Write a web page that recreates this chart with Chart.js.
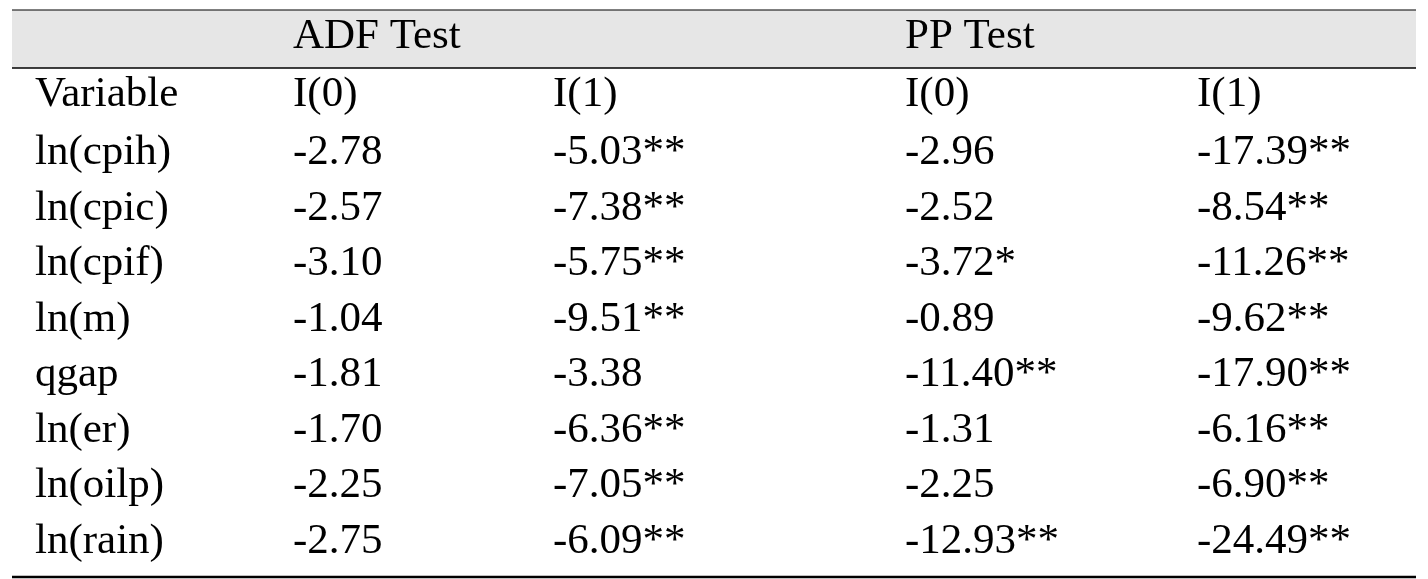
<!DOCTYPE html>
<html>
<head>
<meta charset="utf-8">
<script src="https://cdn.jsdelivr.net/npm/chart.js@4"></script>
<style>
  html, body { margin: 0; padding: 0; background: #fff; }
  #wrap { width: 1428px; height: 579px; position: relative; }
</style>
</head>
<body>
<div id="wrap"><canvas id="chart"></canvas></div>
<script>
// table content
let groups = ['ADF Test', 'PP Test'];
let headers = ['Variable', 'I(0)', 'I(1)', 'I(0)', 'I(1)'];
let variables = ['ln(cpih)', 'ln(cpic)', 'ln(cpif)', 'ln(m)', 'qgap', 'ln(er)', 'ln(oilp)', 'ln(rain)'];
let adfLevel = ['-2.78', '-2.57', '-3.10', '-1.04', '-1.81', '-1.70', '-2.25', '-2.75'];
let adfDiff = ['-5.03**', '-7.38**', '-5.75**', '-9.51**', '-3.38', '-6.36**', '-7.05**', '-6.09**'];
let ppLevel = ['-2.96', '-2.52', '-3.72*', '-0.89', '-11.40**', '-1.31', '-2.25', '-12.93**'];
let ppDiff = ['-17.39**', '-8.54**', '-11.26**', '-9.62**', '-17.90**', '-6.16**', '-6.90**', '-24.49**'];

// layout in scale units (pixels of the 1428x579 picture)
let colX = [35, 293, 553, 905, 1197];
let groupX = [293, 905];
let groupY = 37;
let headerY = 95;
let firstRowY = 153;
let rowStep = 55.5;

let columns = [variables, adfLevel, adfDiff, ppLevel, ppDiff];
let points = [];
columns.forEach((col, c) => col.forEach((v, r) => points.push({ x: colX[c], y: firstRowY + r * rowStep, label: v })));

const tablePlugin = {
  id: 'table',
  beforeDatasetsDraw(chart) {
    const ctx = chart.ctx, xs = chart.scales.x, ys = chart.scales.y;
    const x0 = xs.getPixelForValue(12), x1 = xs.getPixelForValue(1416);
    ctx.save();
    ctx.fillStyle = '#e6e6e6';
    ctx.fillRect(x0, ys.getPixelForValue(10), x1 - x0, ys.getPixelForValue(68) - ys.getPixelForValue(10));
    ctx.strokeStyle = '#000';
    [[10, 1.2], [68, 1.5], [577, 2.5]].forEach(([y, w]) => {
      ctx.lineWidth = w;
      ctx.beginPath();
      ctx.moveTo(x0, ys.getPixelForValue(y));
      ctx.lineTo(x1, ys.getPixelForValue(y));
      ctx.stroke();
    });
    ctx.fillStyle = '#000';
    ctx.font = '43px "Liberation Serif", "Times New Roman", serif';
    ctx.textBaseline = 'middle';
    ctx.textAlign = 'left';
    groups.forEach((g, i) => ctx.fillText(g, xs.getPixelForValue(groupX[i]), ys.getPixelForValue(groupY)));
    headers.forEach((h, i) => ctx.fillText(h, xs.getPixelForValue(colX[i]), ys.getPixelForValue(headerY)));
    points.forEach(p => ctx.fillText(p.label, xs.getPixelForValue(p.x), ys.getPixelForValue(p.y)));
    ctx.restore();
  }
};

new Chart(document.getElementById('chart').getContext('2d'), {
  type: 'scatter',
  data: { datasets: [{ data: points, pointRadius: 0, pointHoverRadius: 0 }] },
  options: {
    responsive: true,
    maintainAspectRatio: false,
    animation: false,
    layout: { padding: 0 },
    plugins: { legend: { display: false }, tooltip: { enabled: false } },
    scales: {
      x: { type: 'linear', min: 0, max: 1428, display: false },
      y: { type: 'linear', min: 0, max: 579, reverse: true, display: false }
    }
  },
  plugins: [tablePlugin]
});
</script>
</body>
</html>
